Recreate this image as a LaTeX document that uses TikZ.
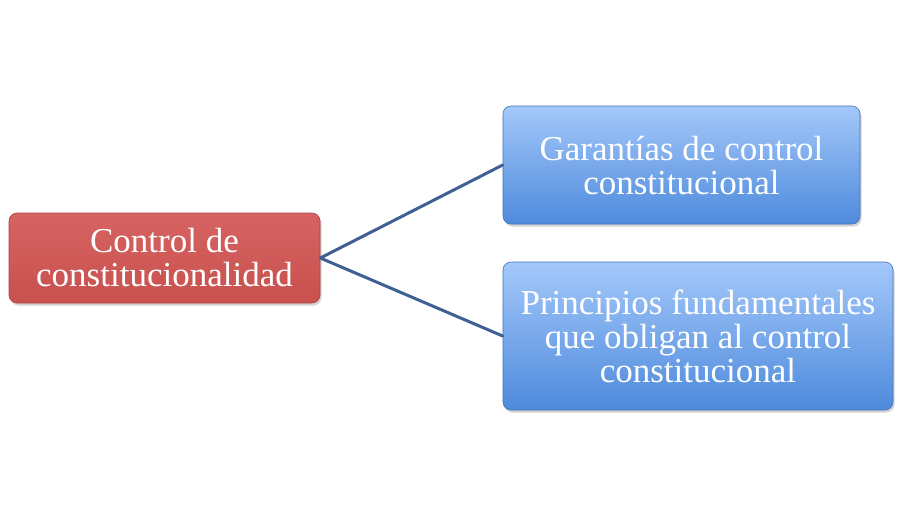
\documentclass[tikz,border=0pt]{standalone}
\usepackage{fontspec}
\setmainfont{Liberation Serif}
\usetikzlibrary{shadows}
\definecolor{rojo}{RGB}{200,80,78}
\definecolor{rojoclaro}{RGB}{214,100,98}
\definecolor{azulclaro}{RGB}{164,200,250}
\definecolor{azul}{RGB}{78,138,220}
\definecolor{linea}{RGB}{62,96,146}
\begin{document}
\begin{tikzpicture}[x=1pt,y=-1pt,line join=round,line cap=round,font=\fontsize{35}{34}\selectfont,
caja/.style={rounded corners=8pt,text=white,align=center,inner sep=0pt,line width=0.6pt,
  drop shadow={opacity=0.35,shadow xshift=1.5pt,shadow yshift=-2.5pt}},
cajaroja/.style={caja,top color=rojoclaro,bottom color=rojo,draw=rojo!85!black},
cajaazul/.style={caja,top color=azulclaro,bottom color=azul,draw=azul!85!black}]
\useasboundingbox (0,0) rectangle (903,517);
\node[cajaroja,minimum width=311pt,minimum height=90pt] (C) at (164.5,258) {Control de\\constitucionalidad};
\node[cajaazul,minimum width=357pt,minimum height=118pt] (G) at (681.5,165) {Garantías de control\\constitucional};
\node[cajaazul,minimum width=390pt,minimum height=148pt] (P) at (698,336) {Principios fundamentales\\que obligan al control\\constitucional};
\foreach \destino in {G,P} \draw[linea,line width=3pt] (C.east)--(\destino.west);
\end{tikzpicture}
\end{document}
